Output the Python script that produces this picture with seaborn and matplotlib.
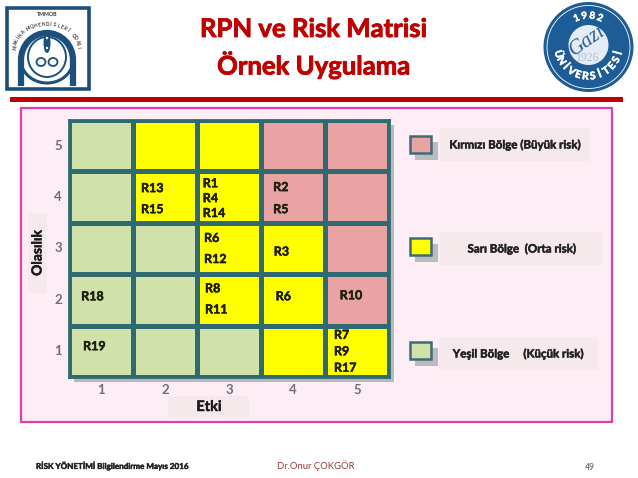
import numpy as np
import pandas as pd
import matplotlib
matplotlib.use('Agg')
import matplotlib.pyplot as plt
import matplotlib.patheffects as pe
from matplotlib.colors import ListedColormap
from matplotlib.patches import Rectangle, Circle, Ellipse, Arc
import seaborn as sns

sns.set_style('white')
plt.rcParams['font.family'] = ['Lato', 'DejaVu Sans']

# risk matrisi: 0 yesil, 1 sari, 2 kirmizi
etki = [1, 2, 3, 4, 5]
olasilik = [5, 4, 3, 2, 1]
bolge_5 = [0, 1, 1, 2, 2]
bolge_4 = [0, 1, 1, 2, 2]
bolge_3 = [0, 0, 1, 1, 2]
bolge_2 = [0, 0, 1, 1, 2]
bolge_1 = [0, 0, 0, 1, 1]

# hucredeki riskler (etki, olasilik, kodlar)
risk_etki = [2, 3, 4, 3, 4, 1, 3, 4, 5, 1, 5]
risk_olasilik = [4, 4, 4, 3, 3, 2, 2, 2, 2, 1, 1]
risk_kod = [['R13', 'R15'], ['R1', 'R4', 'R14'], ['R2', 'R5'], ['R6', 'R12'], ['R3'],
            ['R18'], ['R8', 'R11'], ['R6'], ['R10'], ['R19'], ['R7', 'R9', 'R17']]

legend_text = ['Kırmızı Bölge (Büyük risk)', 'Sarı Bölge  (Orta risk)', 'Yeşil Bölge     (Küçük risk)']

YESIL = '#d0e1a9'
SARI = '#ffff00'
KIRMIZI = '#e9a3a3'
GRID = '#2f6a72'
LOGO = '#1c4f7c'


def kalin(w=0.35, c='#222222'):
    # Lato bold referanstan biraz ince kaliyor
    return [pe.withStroke(linewidth=w, foreground=c)]


fig = plt.figure(figsize=(6.38, 4.78), dpi=100, facecolor='white')

# piksel koordinatli arka plan
bg = fig.add_axes([0, 0, 1, 1], zorder=0)
bg.set_xlim(0, 638)
bg.set_ylim(478, 0)
bg.axis('off')

bg.add_patch(Rectangle((10, 97), 613, 5, color='#c00000', lw=0))
bg.add_patch(Rectangle((21, 108), 591, 314, fc='#fdeef6', ec='#e23fa4', lw=1.6))
bg.add_patch(Rectangle((74, 125), 320, 257, color='#b9b9bd', lw=0))

bg.text(314, 29, 'RPN ve Risk Matrisi', color='#c00000', fontsize=18.5, fontweight='bold', ha='center', va='center',
        path_effects=kalin(0.6, '#c00000'))
bg.text(314, 64, 'Örnek Uygulama', color='#c00000', fontsize=18.5, fontweight='bold', ha='center', va='center',
        path_effects=kalin(0.6, '#c00000'))

# sol logo
bg.add_patch(Rectangle((6.5, 7.5), 82, 81, fc='white', ec=LOGO, lw=2.6))
bg.add_patch(Arc((47, 60), 52, 54, theta1=180, theta2=360, ec=LOGO, lw=4.5))
bg.add_patch(Ellipse((47, 57), 38, 40, fc='none', ec=LOGO, lw=1.4))
bg.plot([21, 21], [60, 86], color=LOGO, lw=4.5, solid_capstyle='butt')
bg.plot([73, 73], [60, 86], color=LOGO, lw=4.5, solid_capstyle='butt')
bg.add_patch(Arc((47, 60), 52, 46, theta1=20, theta2=160, ec=LOGO, lw=2.2))
bg.add_patch(Ellipse((47, 43), 7, 20, fc=LOGO, ec='none'))
for dy in [38, 48]:
    bg.add_patch(Circle((47, dy), 1.2, fc='white', ec='none'))
bg.add_patch(Ellipse((41, 62), 9, 8, fc='none', ec=LOGO, lw=1.3))
bg.add_patch(Ellipse((53, 62), 9, 8, fc='none', ec=LOGO, lw=1.3))
bg.text(47, 14, 'TMMOB', fontsize=3.8, fontweight='bold', color='#333333', ha='center', va='center')
arc_text = 'MAKİNA MÜHENDİSLERİ ODASI'
for i, ch in enumerate(arc_text):
    a = np.deg2rad(-172 + 164 * i / (len(arc_text) - 1))
    bg.text(47 + 32 * np.cos(a), 51 + 27 * np.sin(a), ch, fontsize=3.3, fontweight='bold', color='#333333',
            rotation=-np.rad2deg(a) - 90, ha='center', va='center', rotation_mode='anchor')

# sag logo
bg.add_patch(Circle((588.5, 47), 45, fc='#1d5c96', ec='none'))
bg.add_patch(Circle((588.5, 47), 41.5, fc='none', ec='white', lw=0.6))
bg.add_patch(Circle((588.5, 45), 20, fc='#e4edf5', ec='none'))
for i, ch in enumerate('1982'):
    a = np.deg2rad(-114 + 47 * i / 3)
    bg.text(588.5 + 29 * np.cos(a), 45 + 29 * np.sin(a), ch, fontsize=7, fontweight='bold', color='white',
            rotation=-np.rad2deg(a) - 90, ha='center', va='center', rotation_mode='anchor',
            path_effects=kalin(0.4, 'white'))
alt_text = 'ÜNİVERSİTESİ'
for i, ch in enumerate(alt_text):
    a = np.deg2rad(163 - 148 * i / (len(alt_text) - 1))
    bg.text(588.5 + 32 * np.cos(a), 45 + 32 * np.sin(a), ch, fontsize=7.5, fontweight='bold', color='white',
            rotation=90 - np.rad2deg(a), ha='center', va='center', rotation_mode='anchor',
            path_effects=kalin(0.4, 'white'))
bg.text(588, 58, '1926', fontsize=8.5, color='#a9bfd4', family='Liberation Serif', ha='center', va='center')
bg.text(587, 41, 'Gazi', fontsize=15, color='#2b5f8c', family='Liberation Serif', style='italic',
        rotation=35, ha='center', va='center')

# eksen kutulari
bg.add_patch(Rectangle((28, 213), 19, 80, color='#f6e9ec', lw=0))
bg.add_patch(Rectangle((168, 396), 81, 21, color='#f6e9ec', lw=0))
bg.text(37.5, 253, 'Olasılık', fontsize=10, fontweight='bold', color='#1a1a1a', rotation=90, ha='center', va='center',
        path_effects=kalin())
bg.text(209, 407, 'Etki', fontsize=10.5, fontweight='bold', color='#1a1a1a', ha='center', va='center',
        path_effects=kalin())

# lejant
swatch_y = [136, 238, 342]
box_x = [440, 440, 439]
box_w = [150, 163, 159]
box_y = [128, 232, 337]
text_x = [515, 522, 518]
swatch_colors = [KIRMIZI, SARI, YESIL]
for i in range(3):
    bg.add_patch(Rectangle((415, swatch_y[i] + 6), 23, 18, color='#bcbcc0', lw=0))
    bg.add_patch(Rectangle((410, swatch_y[i]), 21, 17, fc=swatch_colors[i], ec='#3f6a78', lw=1.8))
    bg.add_patch(Rectangle((box_x[i], box_y[i]), box_w[i], 33, color='#f6e9ec', lw=0))
    bg.text(text_x[i], box_y[i] + 17, legend_text[i], fontsize=8.3, fontweight='bold', color='#222222',
            ha='center', va='center', path_effects=kalin())

# alt bilgi
bg.text(36, 466, 'RİSK YÖNETİMİ Bilgilendirme Mayıs 2016', fontsize=5.8, fontweight='bold', color='#222222', va='center',
        path_effects=kalin(0.3))
bg.text(277, 466, 'Dr.Onur ÇOKGÖR', fontsize=6.8, color='#8f3b3b', va='center')
bg.text(590, 467, '49', fontsize=6.2, fontweight='bold', color='#777777', ha='center', va='center')

# matris
df = pd.DataFrame([bolge_5, bolge_4, bolge_3, bolge_2, bolge_1], index=olasilik, columns=etki)
ax = fig.add_axes([69 / 638, 1 - 377 / 478, 320 / 638, 257 / 478], zorder=1)
sns.heatmap(df, ax=ax, cmap=ListedColormap([YESIL, SARI, KIRMIZI]), vmin=0, vmax=2, cbar=False,
            linewidths=2.2, linecolor=GRID, square=False)
for s in ax.spines.values():
    s.set_visible(True)
    s.set_color(GRID)
    s.set_linewidth(2.0)
ax.tick_params(length=0, pad=5, labelsize=9.5, labelcolor='#6e6e78')
ax.tick_params(axis='y', labelrotation=0, pad=5)
for lab in ax.get_xticklabels() + ax.get_yticklabels():
    lab.set_fontweight('bold')
ax.set_xlabel('')
ax.set_ylabel('')

# her hucrede metnin sol kenari, satir araligi ve dikey kaymasi
metin_sol = [0.125, 0.09, 0.19, 0.11, 0.20, 0.19, 0.125, 0.23, 0.23, 0.22, 0.14]
satir = [0.41, 0.29, 0.43, 0.41, 0, 0, 0.41, 0, 0, 0, 0.32]
metin_dy = [0.03, 0.02, 0.02, 0, 0.06, -0.07, -0.02, -0.07, -0.09, -0.10, 0]
for e, o, kodlar, sol, ara, dy in zip(risk_etki, risk_olasilik, risk_kod, metin_sol, satir, metin_dy):
    satir_y = 5 - o + 0.5 + dy
    for j, kod in enumerate(kodlar):
        y = satir_y + (j - (len(kodlar) - 1) / 2) * ara
        ax.text(e - 1 + sol, y, kod, fontsize=9, fontweight='bold', color='#1f1f10', ha='left', va='center',
                path_effects=kalin(0.35, '#1f1f10'))

fig.savefig('out.png', dpi=100)
